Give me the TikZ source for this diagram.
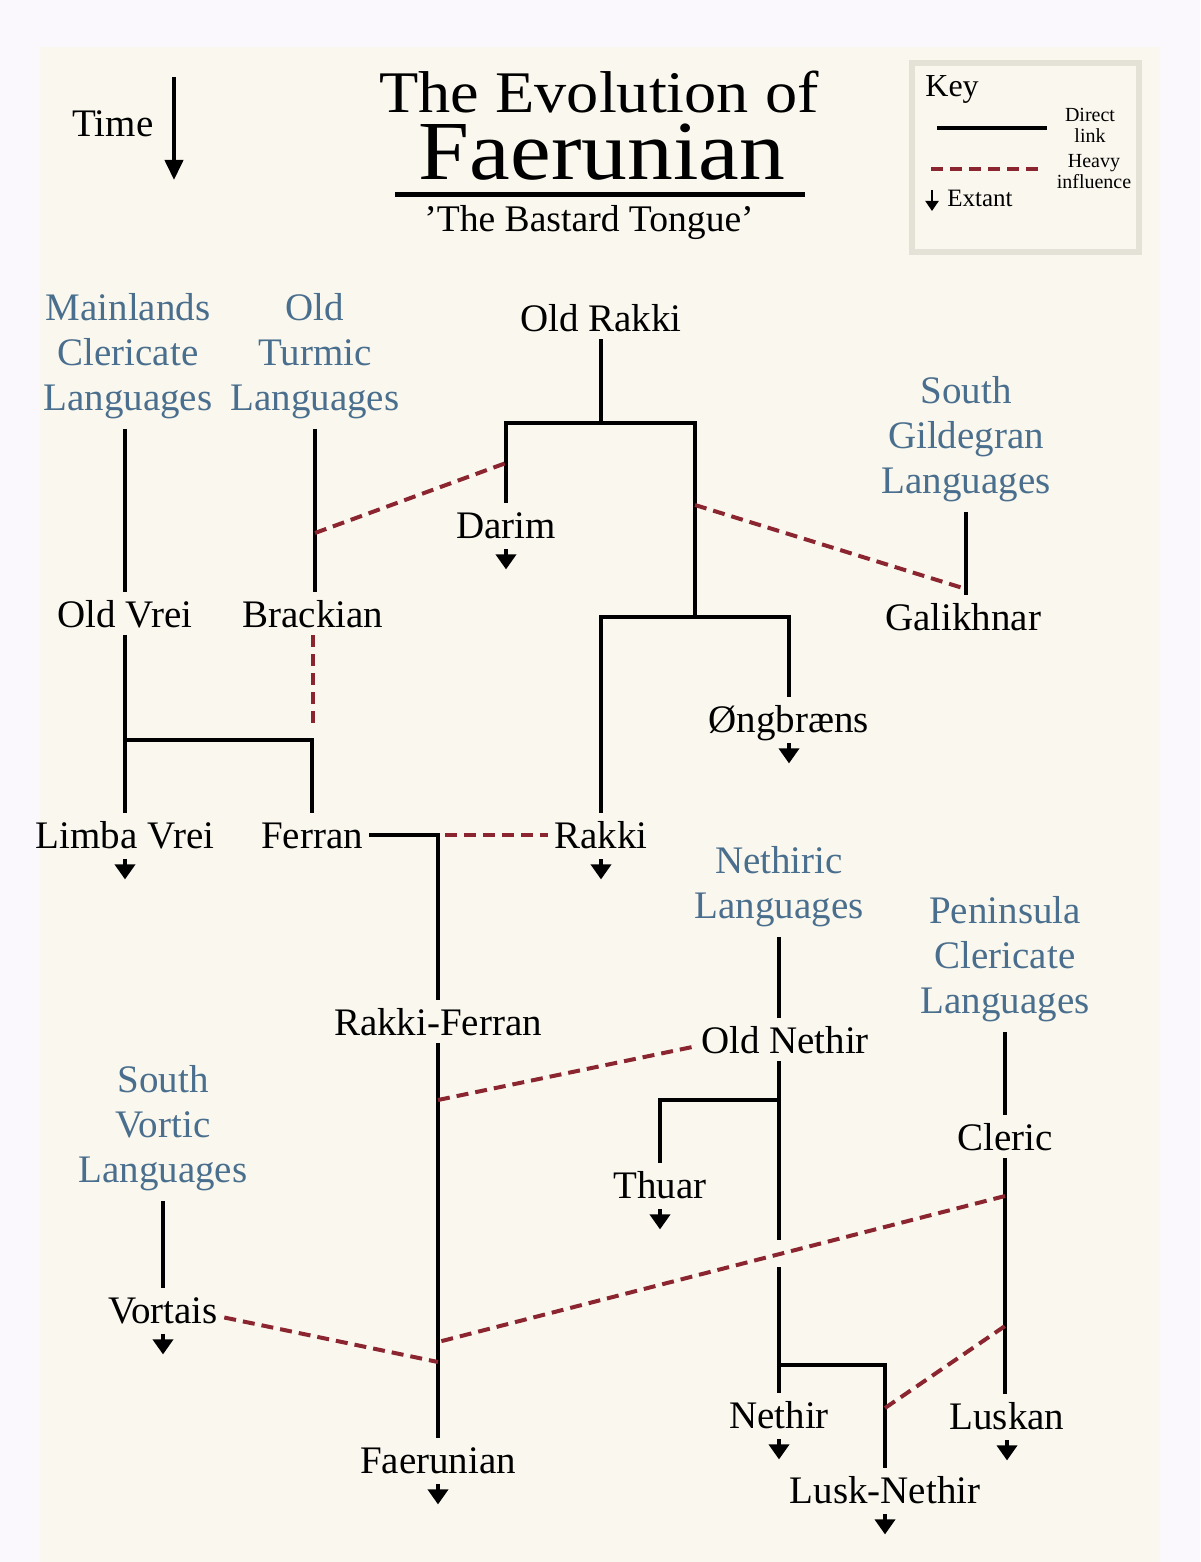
\documentclass[tikz,border=0pt]{standalone}
\usepackage{fontspec}
\setmainfont{Liberation Serif}
\newfontfamily\widefont[FakeStretch=1.09]{Liberation Serif}
\usetikzlibrary{arrows.meta,calc}
\definecolor{PageBg}{RGB}{250,248,252}
\definecolor{Parchment}{RGB}{250,248,238}
\definecolor{KeyFrame}{RGB}{228,225,215}
\definecolor{FamBlue}{RGB}{74,110,141}
\definecolor{InflRed}{RGB}{139,38,48}

\begin{document}
\begin{tikzpicture}[x=0.5pt,y=-0.5pt,
    lang/.style={font=\fontsize{19.5}{22.5}\selectfont, text height=13.5pt, text depth=0pt, inner xsep=3pt, inner ysep=4pt, anchor=base},
    family/.style={font=\fontsize{19.5}{22.5}\selectfont, text=FamBlue, align=center, inner xsep=0pt, inner ysep=5pt, anchor=base},
    link/.style={line width=2pt},
    infl/.style={line width=2pt, InflRed, dash pattern=on 6pt off 3.5pt},
    extant/.style={line width=1.8pt, -{Triangle[width=10pt,length=7.5pt]}}]
        \fill[PageBg] (0,0) rectangle (1200,1562);
        \fill[Parchment] (40,47) rectangle (1160,1562);
        \node[font=\fontsize{19.5}{19.5}\selectfont, anchor=base west, inner sep=0pt] (time) at (72,137) {Time};
        \draw[line width=2pt, -{Triangle[width=9pt,length=10pt]}] (174,77) -- (174,180);
        \node[font=\widefont\fontsize{29.5}{29.5}\selectfont, anchor=base, inner sep=0pt, text depth=0pt] (title) at (599,113) {The Evolution of};
        \node[font=\widefont\fontsize{42}{42}\selectfont, anchor=base, inner sep=0pt, text height=28pt] (titlename) at (602,180) {Faerunian};
        \draw[line width=2.5pt] (395,195) -- (805,195);
        \node[font=\fontsize{18.8}{18.8}\selectfont, anchor=base] (subtitle) at (589,232) {’The Bastard Tongue’};
        \draw[KeyFrame, line width=3pt, fill=Parchment] (912,63) rectangle (1139,252);
        \node[font=\fontsize{16}{16}\selectfont, anchor=base west, inner sep=0pt] (key) at (925,97) {Key};
        \draw[link] (937,128) -- (1047,128);
        \draw[infl] (931,169) -- (1042,169);
        \node[font=\fontsize{10}{10.5}\selectfont, align=center, anchor=base] (keydirect) at (1090,143) {Direct\\link};
        \node[font=\fontsize{10}{10.5}\selectfont, align=center, anchor=base] (keyheavy) at (1094,189) {Heavy\\influence};
        \draw[line width=1pt, -{Triangle[width=6.5pt,length=5pt]}] (932,190) -- (932,211);
        \node[font=\fontsize{12.5}{12.5}\selectfont, anchor=base west, inner sep=0pt] (keyextant) at (947,207) {Extant};
        \node[family] (mainlands) at (128,410) {Mainlands\\Clericate\\Languages};
        \node[family] (turmic) at (315,410) {Old\\Turmic\\Languages};
        \node[family] (gildegran) at (966,493) {South\\Gildegran\\Languages};
        \node[family] (nethiric) at (779,918) {Nethiric\\Languages};
        \node[family] (peninsula) at (1005,1013) {Peninsula\\Clericate\\Languages};
        \node[family] (vortic) at (163,1182) {South\\Vortic\\Languages};
        \node[lang] (oldrakki) at (601,331) {Old Rakki};
        \node[lang] (darim) at (506,538) {Darim};
        \node[lang] (galikhnar) at (963,630) {Galikhnar};
        \node[lang] (ongbraens) at (789,732) {Øngbræns};
        \node[lang] (rakki) at (601,848) {Rakki};
        \node[lang] (oldvrei) at (125,627) {Old Vrei};
        \node[lang] (brackian) at (313,627) {Brackian};
        \node[lang] (limbavrei) at (125,848) {Limba Vrei};
        \node[lang] (ferran) at (312,848) {Ferran};
        \node[lang] (rakkiferran) at (438,1035) {Rakki-Ferran};
        \node[lang] (faerunian) at (438,1473) {Faerunian};
        \node[lang] (oldnethir) at (785,1053) {Old Nethir};
        \node[lang] (thuar) at (660,1198) {Thuar};
        \node[lang] (nethir) at (779,1428) {Nethir};
        \node[lang] (lusknethir) at (885,1503) {Lusk-Nethir};
        \node[lang] (luskan) at (1007,1429) {Luskan};
        \node[lang] (cleric) at (1005,1150) {Cleric};
        \node[lang] (vortais) at (163,1323) {Vortais};
        \coordinate (rakkisplit) at (601,423);
        \coordinate (midsplit) at (695,617);
        \coordinate (vreisplit) at (125,740);
        \coordinate (nethirsplit) at (779,1100);
        \coordinate (lusksplit) at (779,1365);
        \coordinate (gaptop) at (779,1240);
        \coordinate (gapbot) at (779,1267);
        \coordinate (turmicpt) at (315,533);
        \coordinate (darimpt) at (506,463);
        \coordinate (midpt) at (695,505);
        \coordinate (galikpt) at (966,589);
        \coordinate (rfnethir) at (438,1100);
        \coordinate (rfcleric) at (438,1342);
        \coordinate (rfvortais) at (438,1362);
        \coordinate (clericpt) at (1005,1196);
        \coordinate (luskanpt) at (1005,1326);
        \coordinate (lusknethirpt) at (885,1408);
        \draw[link] (mainlands.south -| oldvrei) -- (oldvrei.north);
        \draw[link] (turmic.south) -- (turmic.south |- brackian.north);
        \draw[link] (oldrakki.south) -- (rakkisplit);
        \draw[link] (darim.north) |- (rakkisplit) -| (midsplit);
        \draw[link] (rakki.north) |- (midsplit) -| (ongbraens.north);
        \draw[link] (gildegran.south) -- (gildegran.south |- galikhnar.north);
        \draw[link] (oldvrei.south) -- (limbavrei.north);
        \draw[link] (vreisplit) -| (ferran.north);
        \draw[infl, shorten >=6pt] (brackian.south) -- (brackian.south |- vreisplit);
        \draw[link] (ferran.east) -| (rakkiferran.north);
        \draw[infl, shorten <=3.5pt] (rakkiferran.north |- ferran.east) -- (rakki.west);
        \draw[link] (rakkiferran.south) -- (faerunian.north);
        \draw[infl] (turmicpt) -- (darimpt);
        \draw[infl] (midpt) -- (galikpt);
        \draw[link] (nethiric.south) -- (nethiric.south |- oldnethir.north);
        \draw[link] (oldnethir.south -| nethirsplit) -- (gaptop);
        \draw[link] (gapbot) -- (nethir.north);
        \draw[link] (nethirsplit) -| (thuar.north);
        \draw[link] (lusksplit) -| (lusknethir.north);
        \draw[link] (peninsula.south) -- (cleric.north);
        \draw[link] (cleric.south) -- (cleric.south |- luskan.north);
        \draw[link] (vortic.south) -- (vortais.north);
        \draw[infl] (rfnethir) -- ($(oldnethir.west)+(0,7)$);
        \draw[infl] ($(vortais.east)+(0,8)$) -- (rfvortais);
        \draw[infl] (clericpt) -- (rfcleric);
        \draw[infl] (lusknethirpt) -- (luskanpt);
        \foreach \n in {darim,ongbraens,rakki,limbavrei,thuar,vortais,nethir,luskan,lusknethir,faerunian}
          \draw[extant] (\n.south) ++(0,3) -- ++(0,20);
      \end{tikzpicture}
\end{document}
